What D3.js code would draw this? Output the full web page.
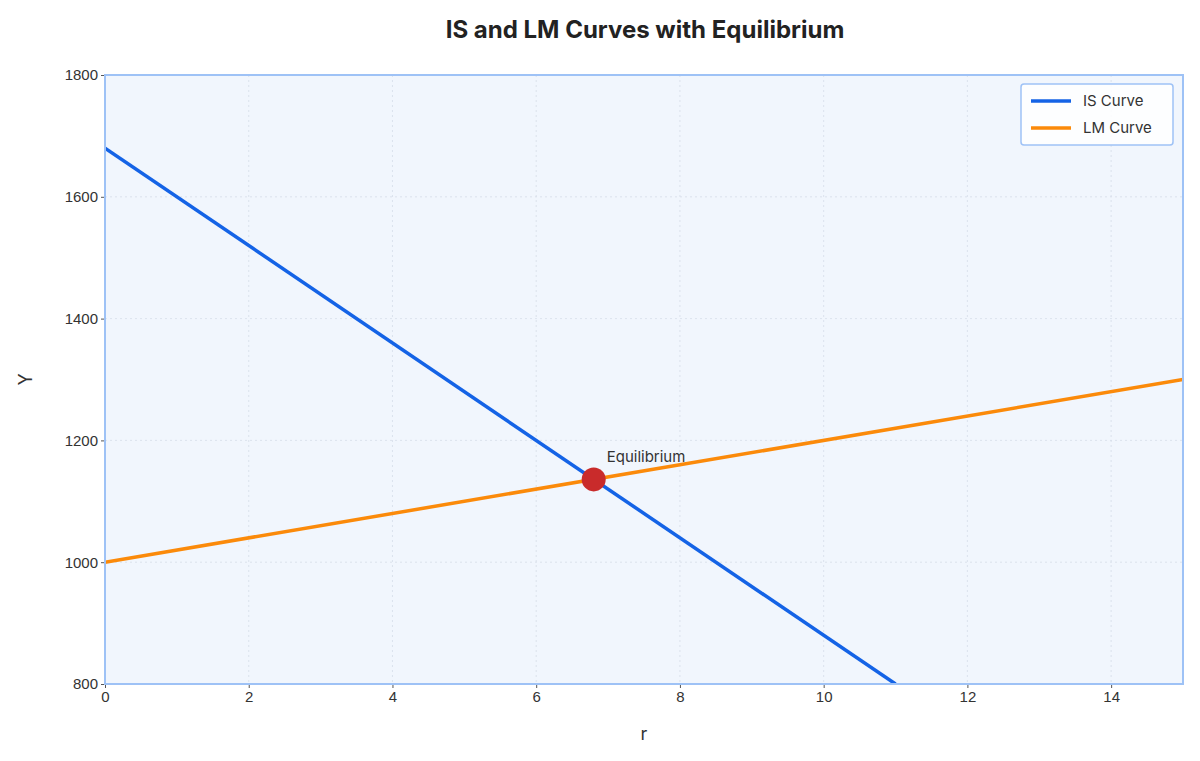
<!DOCTYPE html>
<html>
<head>
<meta charset="utf-8">
<script src="https://cdn.jsdelivr.net/npm/d3@7"></script>
<style>
  body { margin: 0; background: #fff; font-family: Inter, "Noto Sans", sans-serif; }
  .tick text { font-size: 15px; fill: #333; }
</style>
</head>
<body>
<svg id="chart" width="1200" height="761"></svg>
<script>
// Data
var isR = [0, 11], isY = [1680, 800];
var lmR = [0, 15], lmY = [1000, 1300];
var eqR = 6.8, eqY = 1136;
var xTicks = [0, 2, 4, 6, 8, 10, 12, 14],
    yTicks = [800, 1000, 1200, 1400, 1600, 1800];

var m = { left: 105, right: 17, top: 75, bottom: 77 },
    W = 1200, H = 761,
    w = W - m.left - m.right, h = H - m.top - m.bottom;

var svg = d3.select("#chart");
var g = svg.append("g").attr("transform", "translate(" + m.left + "," + m.top + ")");

var x = d3.scaleLinear().domain([0, 15]).range([0, w]);
var y = d3.scaleLinear().domain([800, 1800]).range([h, 0]);

g.append("rect").attr("width", w).attr("height", h).attr("fill", "#f1f6fd");

// grid
g.selectAll("line.gx").data(xTicks).enter().append("line")
    .attr("x1", d => x(d)).attr("x2", d => x(d)).attr("y1", 0).attr("y2", h)
    .attr("stroke", "#d5dde8").attr("stroke-dasharray", "2,3").attr("stroke-width", 0.8);
g.selectAll("line.gy").data(yTicks).enter().append("line")
    .attr("y1", d => y(d)).attr("y2", d => y(d)).attr("x1", 0).attr("x2", w)
    .attr("stroke", "#d5dde8").attr("stroke-dasharray", "2,3").attr("stroke-width", 0.8);

g.append("clipPath").attr("id", "clip").append("rect").attr("width", w).attr("height", h);

var line = d3.line().x(d => x(d[0])).y(d => y(d[1]));
g.append("path").datum(d3.zip(isR, isY)).attr("d", line).attr("clip-path", "url(#clip)")
    .attr("fill", "none").attr("stroke", "#1463e6").attr("stroke-width", 3.5);
g.append("path").datum(d3.zip(lmR, lmY)).attr("d", line).attr("clip-path", "url(#clip)")
    .attr("fill", "none").attr("stroke", "#fb8a0a").attr("stroke-width", 3.5);

g.append("circle").attr("cx", x(eqR)).attr("cy", y(eqY)).attr("r", 12).attr("fill", "#c92b2b");
g.append("text").attr("x", x(eqR) + 13).attr("y", y(eqY) - 17)
    .attr("font-size", 15).attr("fill", "#333").text("Equilibrium");

// axes
var xa = g.append("g").attr("transform", "translate(0," + h + ")")
    .call(d3.axisBottom(x).tickValues(xTicks).tickSize(4).tickFormat(d3.format("d")));
var ya = g.append("g").call(d3.axisLeft(y).tickValues(yTicks).tickSize(4).tickFormat(d3.format("d")));
[xa, ya].forEach(a => { a.select(".domain").remove(); a.selectAll(".tick line").attr("stroke", "#555"); });

g.append("rect").attr("width", w).attr("height", h).attr("fill", "none")
    .attr("stroke", "#9ec2f6").attr("stroke-width", 2);

svg.append("text").attr("x", m.left + w / 2).attr("y", 740).attr("text-anchor", "middle")
    .attr("font-size", 18).attr("fill", "#333").text("r");
svg.append("text").attr("transform", "translate(32," + (m.top + h / 2) + ") rotate(-90)")
    .attr("text-anchor", "middle").attr("font-size", 18).attr("fill", "#333").text("Y");
svg.append("text").attr("x", 645).attr("y", 38).attr("text-anchor", "middle")
    .attr("font-size", 24).attr("font-weight", "bold").attr("fill", "#222")
    .text("IS and LM Curves with Equilibrium");

// legend
var lg = g.append("g").attr("transform", "translate(" + (w - 162) + ",9)");
lg.append("rect").attr("width", 152).attr("height", 61).attr("rx", 3)
    .attr("fill", "#fff").attr("fill-opacity", 0.85).attr("stroke", "#9ec2f6").attr("stroke-width", 1.5);
[["IS Curve", "#1463e6"], ["LM Curve", "#fb8a0a"]].forEach((d, i) => {
  lg.append("line").attr("x1", 10).attr("x2", 50).attr("y1", 17 + i * 27).attr("y2", 17 + i * 27)
    .attr("stroke", d[1]).attr("stroke-width", 3.5);
  lg.append("text").attr("x", 62).attr("y", 22 + i * 27).attr("font-size", 15).attr("fill", "#333").text(d[0]);
});
</script>
</body>
</html>
